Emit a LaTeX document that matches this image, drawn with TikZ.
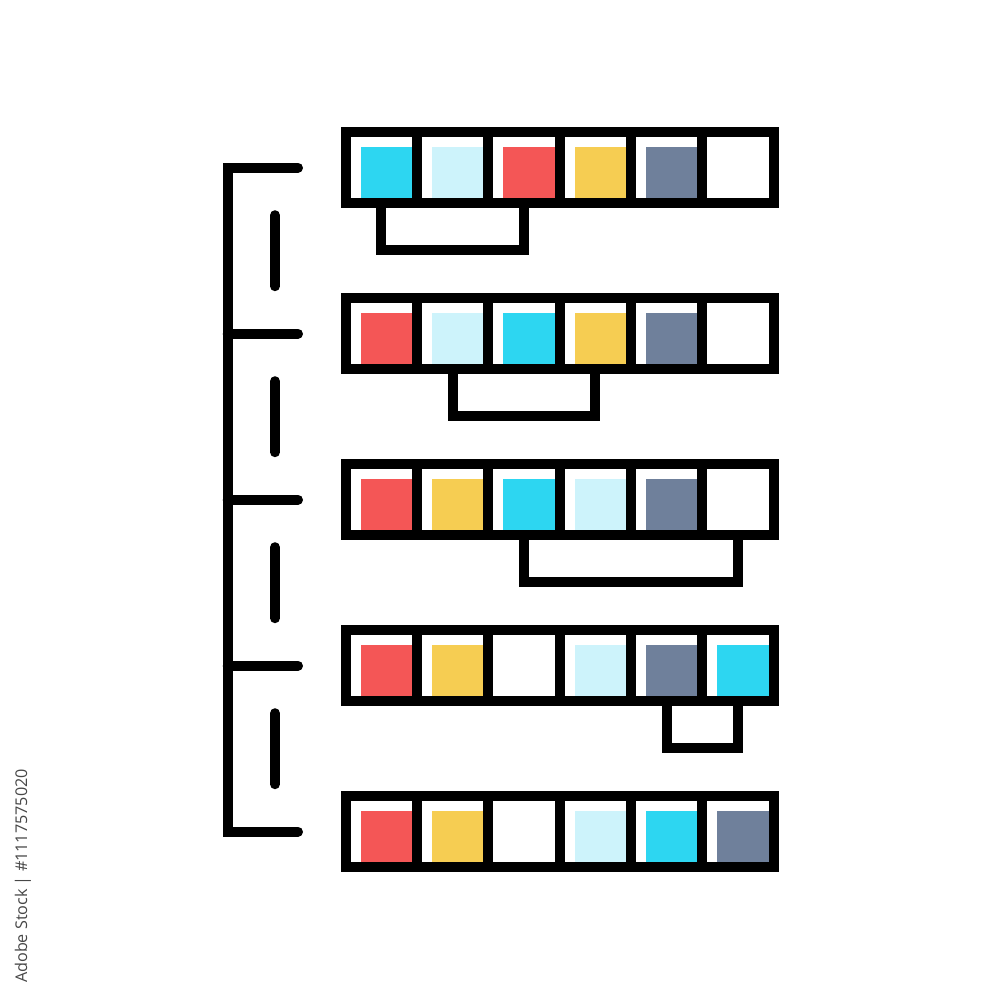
\documentclass[tikz,border=0pt]{standalone}
\usepackage{fontspec}
\newfontfamily\wmfont{Open Sans}
\definecolor{cCyan}{RGB}{45,214,241}
\definecolor{cLight}{RGB}{205,243,251}
\definecolor{cRed}{RGB}{244,86,86}
\definecolor{cYellow}{RGB}{246,205,82}
\definecolor{cSlate}{RGB}{111,128,155}
\definecolor{cWhite}{RGB}{255,255,255}
\tikzset{
  outline/.style={draw=black, line width=1mm, miter limit=10, line join=miter},
  roundline/.style={draw=black, line width=1mm, line cap=round, line join=miter},
}
\begin{document}
\begin{tikzpicture}[x=0.1mm, y=-0.1mm]
\useasboundingbox (0,0) rectangle (1000,1000);
\fill[white] (0,0) rectangle (1000,1000);
% rows
\foreach \k/\cols/\xa/\xb in {
  0/{cCyan,cLight,cRed,cYellow,cSlate,cWhite}/0/2,
  1/{cRed,cLight,cCyan,cYellow,cSlate,cWhite}/1/3,
  2/{cRed,cYellow,cCyan,cLight,cSlate,cWhite}/2/5,
  3/{cRed,cYellow,cWhite,cLight,cSlate,cCyan}/4/5,
  4/{cRed,cYellow,cWhite,cLight,cCyan,cSlate}/-1/-1} {
  \pgfmathsetmacro{\ya}{132+166*\k}
  \pgfmathsetmacro{\yb}{203+166*\k}
  \foreach \c [count=\i from 0] in \cols {
    \pgfmathsetmacro{\xl}{345.7+71.3*\i}
    \fill[\c] (\xl+15,\ya+15) rectangle (\xl+71.3-5,\yb-5);
  }
  \draw[outline] (345.7,\ya) rectangle (773.5,\yb);
  \foreach \i in {1,...,5} {
    \pgfmathsetmacro{\xl}{345.7+71.3*\i}
    \draw[outline] (\xl,\ya) -- (\xl,\yb);
  }
  \ifnum\xa>-1
    \pgfmathsetmacro{\pa}{381.35+71.3*\xa}
    \pgfmathsetmacro{\pb}{381.35+71.3*\xb}
    \draw[outline] (\pa,\yb) -- (\pa,\yb+47) -- (\pb,\yb+47) -- (\pb,\yb);
  \fi
}
% left bracket
\coordinate (t0) at (298,167.7);
\coordinate (c0) at (227.7,167.7);
\coordinate (c4) at (227.7,831.7);
\coordinate (t4) at (298,831.7);
\draw[roundline] (t0) -- (c0) -- (c4) -- (t4);
\foreach \k in {1,2,3} {
  \draw[roundline] (227.7,167.7+166*\k) -- (298,167.7+166*\k);
}
\foreach \k in {0,1,2,3} {
  \draw[roundline] (275,250.7+166*\k-35.5) -- (275,250.7+166*\k+35.5);
}
% watermark id
\node[rotate=90, text=black!72, inner sep=0pt, font=\wmfont\fontsize{4.6}{5}\selectfont] (wm) at (23,876) {Adobe Stock | \#1117575020};
\end{tikzpicture}
\end{document}
